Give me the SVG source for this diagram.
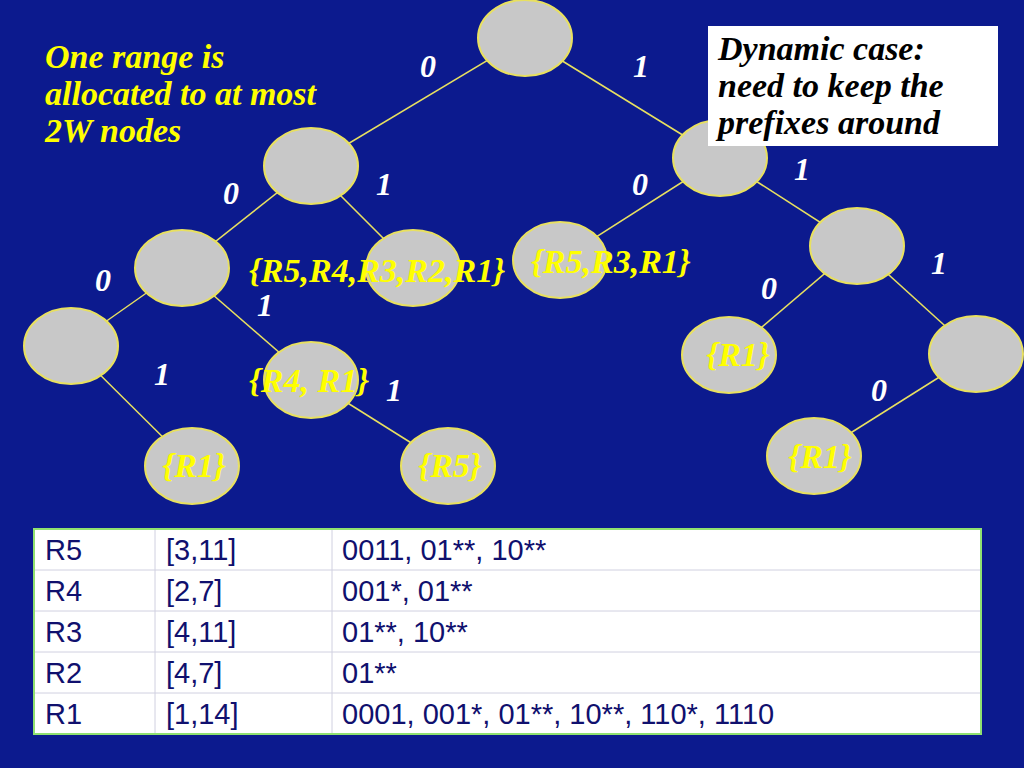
<svg xmlns="http://www.w3.org/2000/svg" width="1024" height="768" viewBox="0 0 1024 768">
<style>
.n{fill:#c8c8c8;stroke:#e8e060;stroke-width:2}
.e{stroke:#e8e060;stroke-width:1.5}
.b{font-family:"Liberation Serif",serif;font-style:italic;font-weight:bold;font-size:32px;fill:#fff}
.y{font-family:"Liberation Serif",serif;font-style:italic;font-weight:bold;font-size:34px;fill:#ffff00}
.k{font-family:"Liberation Serif",serif;font-style:italic;font-weight:bold;font-size:34px;fill:#000}
.t{font-family:"Liberation Sans",sans-serif;font-size:29px;fill:#10106e}
.g{stroke:#d0d0e0;stroke-width:1}
</style>
<rect width="1024" height="768" fill="#0c1a8e"/>
<g id="connectors">
<line class="e" x1="525" y1="38" x2="311" y2="166"/>
<line class="e" x1="525" y1="38" x2="720" y2="158"/>
<line class="e" x1="311" y1="166" x2="182" y2="268"/>
<line class="e" x1="311" y1="166" x2="413" y2="268"/>
<line class="e" x1="720" y1="158" x2="560" y2="260"/>
<line class="e" x1="720" y1="158" x2="857" y2="246"/>
<line class="e" x1="182" y1="268" x2="71" y2="346"/>
<line class="e" x1="182" y1="268" x2="311" y2="380"/>
<line class="e" x1="857" y1="246" x2="729" y2="355"/>
<line class="e" x1="857" y1="246" x2="976" y2="354"/>
<line class="e" x1="71" y1="346" x2="192" y2="466"/>
<line class="e" x1="311" y1="380" x2="448" y2="466"/>
<line class="e" x1="976" y1="354" x2="814" y2="456"/>
</g>
<g id="nodes">
<ellipse id="root" class="n" cx="525" cy="38" rx="47" ry="38"/>
<ellipse id="n0" class="n" cx="311" cy="166" rx="47" ry="38"/>
<ellipse id="n1" class="n" cx="720" cy="158" rx="47" ry="38"/>
<ellipse id="n00" class="n" cx="182" cy="268" rx="47" ry="38"/>
<ellipse id="n01" class="n" cx="413" cy="268" rx="47" ry="38"/>
<ellipse id="n10" class="n" cx="560" cy="260" rx="47" ry="38"/>
<ellipse id="n11" class="n" cx="857" cy="246" rx="47" ry="38"/>
<ellipse id="n000" class="n" cx="71" cy="346" rx="47" ry="38"/>
<ellipse id="n001" class="n" cx="311" cy="380" rx="47" ry="38"/>
<ellipse id="n110" class="n" cx="729" cy="355" rx="47" ry="38"/>
<ellipse id="n111" class="n" cx="976" cy="354" rx="47" ry="38"/>
<ellipse id="n0001" class="n" cx="192" cy="466" rx="47" ry="38"/>
<ellipse id="n0011" class="n" cx="448" cy="466" rx="47" ry="38"/>
<ellipse id="n1110" class="n" cx="814" cy="456" rx="47" ry="38"/>
</g>
<g id="edge-labels">
<text class="b" x="420" y="77">0</text>
<text class="b" x="633" y="77">1</text>
<text class="b" x="223" y="204">0</text>
<text class="b" x="376" y="195">1</text>
<text class="b" x="632" y="195">0</text>
<text class="b" x="794" y="180">1</text>
<text class="b" x="95" y="291">0</text>
<text class="b" x="257" y="316">1</text>
<text class="b" x="761" y="299">0</text>
<text class="b" x="931" y="274">1</text>
<text class="b" x="154" y="385">1</text>
<text class="b" x="386" y="401">1</text>
<text class="b" x="871" y="401">0</text>
</g>
<g id="sets">
<text class="y" x="249" y="282">{R5,R4,R3,R2,R1}</text>
<text class="y" x="531" y="273">{R5,R3,R1}</text>
<text class="y" x="249" y="392">{R4, R1}</text>
<text class="y" x="194" y="477" text-anchor="middle">{R1}</text>
<text class="y" x="450" y="477" text-anchor="middle">{R5}</text>
<text class="y" x="738" y="366" text-anchor="middle">{R1}</text>
<text class="y" x="820" y="468" text-anchor="middle">{R1}</text>
</g>
<g id="note-left">
<text class="y" x="45" y="68">One range is</text>
<text class="y" x="45" y="105">allocated to at most</text>
<text class="y" x="45" y="142">2W nodes</text>
</g>
<g id="note-right">
<rect x="708" y="26" width="290" height="120" fill="#fff"/>
<text class="k" x="718" y="60">Dynamic case:</text>
<text class="k" x="718" y="97">need to keep the</text>
<text class="k" x="718" y="134">prefixes around</text>
</g>
<g id="table">
<rect x="34" y="529" width="947" height="205" fill="#fff" stroke="#90e070" stroke-width="2"/>
<line class="g" x1="155" y1="530" x2="155" y2="733"/>
<line class="g" x1="332" y1="530" x2="332" y2="733"/>
<line class="g" x1="35" y1="570" x2="980" y2="570"/>
<line class="g" x1="35" y1="611" x2="980" y2="611"/>
<line class="g" x1="35" y1="652" x2="980" y2="652"/>
<line class="g" x1="35" y1="693" x2="980" y2="693"/>
<text class="t" x="45" y="560">R5</text><text class="t" x="166" y="560">[3,11]</text><text class="t" x="342" y="560">0011, 01**, 10**</text>
<text class="t" x="45" y="601">R4</text><text class="t" x="166" y="601">[2,7]</text><text class="t" x="342" y="601">001*, 01**</text>
<text class="t" x="45" y="642">R3</text><text class="t" x="166" y="642">[4,11]</text><text class="t" x="342" y="642">01**, 10**</text>
<text class="t" x="45" y="683">R2</text><text class="t" x="166" y="683">[4,7]</text><text class="t" x="342" y="683">01**</text>
<text class="t" x="45" y="724">R1</text><text class="t" x="166" y="724">[1,14]</text><text class="t" x="342" y="724">0001, 001*, 01**, 10**, 110*, 1110</text>
</g>
</svg>
